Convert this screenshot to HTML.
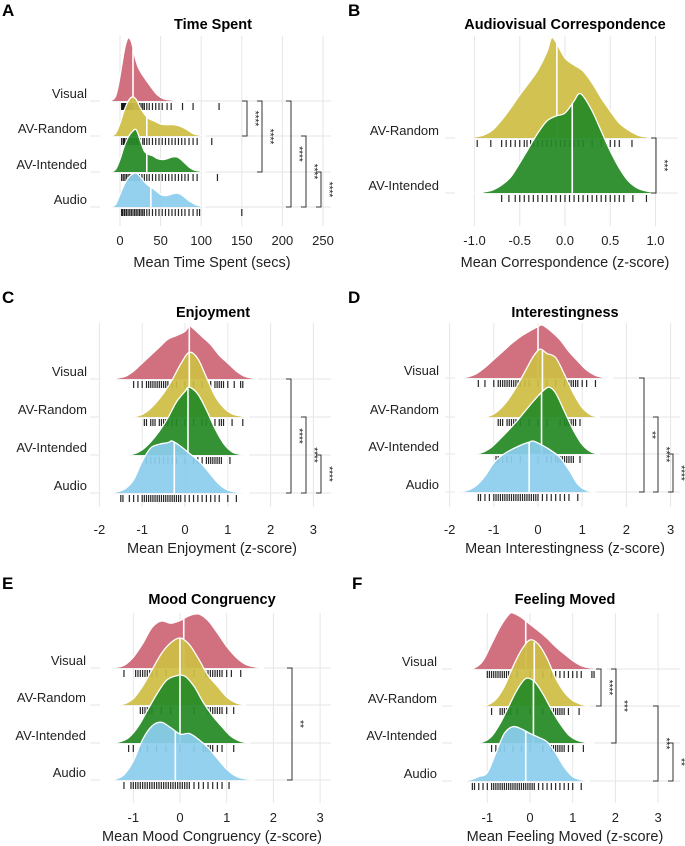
<!DOCTYPE html>
<html><head><meta charset="utf-8">
<style>
html,body{margin:0;padding:0;background:#fff;}
svg{display:block;font-family:"Liberation Sans",Arial,sans-serif;}
</style></head>
<body>
<svg id="fig" width="685" height="846" viewBox="0 0 685 846" xmlns="http://www.w3.org/2000/svg"></svg>
<script>
// ---------- DATA ----------
const rowNames4 = ["Visual","AV-Random","AV-Intended","Audio"];
const rowNames2 = ["AV-Random","AV-Intended"];

// Panel A: Time Spent
const timeTicks = [0,50,100,150,200,250];
const timeVisualDensity = [[-12,0],[-6,0.06],[-2,0.25],[2,0.55],[6,0.85],[10,1.0],[14,0.94],[18,0.72],[22,0.55],[26,0.45],[30,0.37],[35,0.28],[40,0.19],[45,0.11],[50,0.06],[55,0.03],[60,0.02],[70,0.005],[80,0]];
const timeRandomDensity = [[-10,0],[-5,0.05],[0,0.2],[5,0.4],[10,0.55],[15,0.62],[20,0.58],[25,0.45],[30,0.35],[35,0.28],[40,0.25],[45,0.22],[50,0.19],[55,0.18],[60,0.18],[65,0.18],[70,0.17],[75,0.15],[80,0.12],[85,0.08],[90,0.04],[95,0.02],[105,0]];
const timeIntendedDensity = [[-10,0],[-5,0.05],[0,0.2],[5,0.4],[10,0.55],[15,0.64],[20,0.67],[25,0.5],[30,0.33],[35,0.28],[40,0.26],[45,0.22],[50,0.2],[55,0.2],[60,0.22],[65,0.24],[70,0.24],[75,0.2],[80,0.14],[85,0.08],[90,0.04],[95,0.02],[105,0]];
const timeAudioDensity = [[-10,0],[-5,0.05],[0,0.2],[5,0.35],[10,0.46],[15,0.52],[20,0.54],[25,0.48],[30,0.4],[35,0.34],[40,0.3],[45,0.25],[50,0.2],[55,0.18],[60,0.19],[65,0.21],[70,0.22],[75,0.2],[80,0.15],[85,0.1],[90,0.06],[95,0.03],[105,0]];
const timeMedians = [16,33,33,38];
const timeRugVisual = [2,3,4,5,6,7,8,9,10,11,12,13,14,15,16,18,20,22,24,26,28,30,33,36,40,44,48,52,58,63,77,90,122];
const timeRugRandom = [2,4,5,6,8,10,12,14,16,18,20,22,25,28,30,33,36,40,44,48,52,56,60,64,68,72,76,80,85,90,95,113];
const timeRugIntended = [2,4,6,8,10,12,14,16,18,20,22,24,27,30,33,36,40,44,48,52,56,60,64,68,72,76,80,84,90,95,120];
const timeRugAudio = [2,3,5,6,8,10,12,14,16,18,20,22,24,26,28,30,33,36,40,44,48,52,56,60,64,68,72,76,80,85,90,95,98,150];
const timeBrackets = [[0,1,"****"],[0,2,"****"],[0,3,"****"],[1,3,"****"],[2,3,"****"]];

// Panel B: Audiovisual Correspondence
const corrTicks = [-1.0,-0.5,0.0,0.5,1.0];
const corrRandomDensity = [[-1.0,0.01],[-0.9,0.03],[-0.8,0.08],[-0.7,0.18],[-0.6,0.3],[-0.5,0.43],[-0.4,0.55],[-0.3,0.68],[-0.2,0.86],[-0.15,1.0],[-0.1,0.96],[0,0.8],[0.1,0.73],[0.2,0.67],[0.3,0.55],[0.4,0.4],[0.5,0.27],[0.6,0.15],[0.7,0.08],[0.8,0.03],[0.9,0.01],[1.0,0]];
const corrIntendedDensity = [[-0.9,0.01],[-0.8,0.03],[-0.7,0.08],[-0.6,0.16],[-0.5,0.3],[-0.4,0.45],[-0.3,0.6],[-0.2,0.72],[-0.1,0.77],[0,0.8],[0.1,0.92],[0.15,0.99],[0.2,0.97],[0.3,0.82],[0.4,0.62],[0.5,0.42],[0.6,0.25],[0.7,0.12],[0.8,0.05],[0.9,0.02],[1.0,0.005]];
const corrMedians = [-0.09,0.08];
const corrRugRandom = [-0.97,-0.82,-0.7,-0.65,-0.6,-0.55,-0.5,-0.45,-0.42,-0.38,-0.35,-0.3,-0.25,-0.2,-0.15,-0.1,-0.05,0,0.05,0.1,0.15,0.2,0.3,0.4,0.5,0.55,0.6,0.74];
const corrRugIntended = [-0.7,-0.62,-0.55,-0.5,-0.45,-0.4,-0.35,-0.3,-0.25,-0.2,-0.15,-0.1,-0.05,0,0.05,0.1,0.15,0.2,0.25,0.3,0.35,0.4,0.45,0.5,0.55,0.6,0.65,0.75,0.9];
const corrBrackets = [[0,1,"***"]];

// Panel C: Enjoyment
const enjTicks = [-2,-1,0,1,2,3];
const enjVisualDensity = [[-1.7,0],[-1.4,0.05],[-1.2,0.15],[-1.0,0.3],[-0.8,0.45],[-0.6,0.6],[-0.4,0.75],[-0.2,0.82],[0,0.9],[0.1,1.0],[0.2,0.95],[0.4,0.8],[0.6,0.65],[0.8,0.45],[1.0,0.3],[1.2,0.15],[1.4,0.05],[1.7,0]];
const enjRandomDensity = [[-1.3,0],[-1.1,0.02],[-0.9,0.1],[-0.7,0.25],[-0.5,0.45],[-0.3,0.7],[-0.1,1.0],[0.1,1.22],[0.3,1.1],[0.5,0.75],[0.7,0.4],[0.9,0.18],[1.1,0.06],[1.3,0.02],[1.5,0]];
const enjIntendedDensity = [[-1.4,0],[-1.2,0.02],[-1.0,0.1],[-0.8,0.25],[-0.6,0.45],[-0.4,0.7],[-0.2,1.0],[0,1.2],[0.1,1.28],[0.3,1.15],[0.5,0.85],[0.7,0.5],[0.9,0.22],[1.1,0.06],[1.3,0.01],[1.5,0]];
const enjAudioDensity = [[-1.8,0],[-1.6,0.02],[-1.4,0.08],[-1.2,0.25],[-1.0,0.6],[-0.8,0.85],[-0.6,0.92],[-0.4,0.95],[-0.3,0.98],[-0.1,0.88],[0.1,0.75],[0.3,0.62],[0.5,0.45],[0.7,0.25],[0.9,0.1],[1.1,0.03],[1.3,0.01],[1.5,0]];
const enjMedians = [0.1,0.1,0.07,-0.25];
const enjRugVisual = [-1.2,-1.1,-1.0,-0.9,-0.85,-0.8,-0.75,-0.7,-0.65,-0.6,-0.55,-0.5,-0.45,-0.4,-0.3,-0.2,0,0.2,0.4,0.6,0.7,0.75,0.8,0.85,0.9,1.0,1.15,1.3,1.35];
const enjRugRandom = [-0.95,-0.9,-0.8,-0.75,-0.7,-0.6,-0.55,-0.5,-0.45,-0.4,-0.3,-0.2,0,0.2,0.4,0.5,0.6,0.7,0.8,0.85,0.9,1.1,1.35];
const enjRugIntended = [-0.9,-0.8,-0.7,-0.6,-0.5,-0.4,-0.3,-0.2,0,0.2,0.3,0.4,0.5,0.55,0.6,0.65,0.7,0.75,0.8,0.85,1.05];
const enjRugAudio = [-1.5,-1.45,-1.3,-1.2,-1.1,-1.0,-0.95,-0.9,-0.85,-0.8,-0.75,-0.7,-0.65,-0.6,-0.55,-0.5,-0.45,-0.4,-0.35,-0.3,-0.25,-0.2,-0.15,-0.1,0,0.1,0.2,0.3,0.4,0.5,0.6,0.7,0.8,1.0,1.2];
const enjBrackets = [[0,3,"****"],[1,3,"****"],[2,3,"****"]];

// Panel D: Interestingness
const intTicks = [-2,-1,0,1,2,3];
const intVisualDensity = [[-1.8,0],[-1.6,0.02],[-1.4,0.08],[-1.2,0.2],[-1.0,0.35],[-0.8,0.5],[-0.6,0.65],[-0.4,0.78],[-0.2,0.88],[0,0.97],[0.1,1.0],[0.3,0.88],[0.5,0.72],[0.7,0.5],[0.9,0.32],[1.1,0.15],[1.3,0.05],[1.5,0.01],[1.7,0]];
const intRandomDensity = [[-1.3,0],[-1.1,0.02],[-0.9,0.12],[-0.7,0.3],[-0.5,0.55],[-0.3,0.85],[-0.1,1.15],[0.05,1.28],[0.2,1.2],[0.4,1.12],[0.6,0.8],[0.8,0.45],[1.0,0.18],[1.2,0.04],[1.4,0]];
const intIntendedDensity = [[-1.5,0],[-1.3,0.02],[-1.1,0.1],[-0.9,0.25],[-0.7,0.42],[-0.5,0.6],[-0.3,0.8],[-0.1,1.0],[0.1,1.18],[0.25,1.26],[0.4,1.15],[0.6,0.8],[0.8,0.45],[1.0,0.18],[1.2,0.04],[1.4,0]];
const intAudioDensity = [[-1.8,0],[-1.6,0.03],[-1.4,0.12],[-1.2,0.3],[-1.0,0.55],[-0.8,0.7],[-0.6,0.8],[-0.4,0.88],[-0.2,0.94],[-0.1,0.96],[0.1,0.88],[0.3,0.78],[0.5,0.65],[0.7,0.42],[0.9,0.15],[1.1,0.03],[1.3,0]];
const intMedians = [0,0.1,0.08,-0.2];
const intRugVisual = [-1.35,-1.2,-1.0,-0.9,-0.85,-0.8,-0.75,-0.7,-0.65,-0.6,-0.55,-0.5,-0.45,-0.4,-0.3,-0.2,0,0.2,0.4,0.6,0.7,0.75,0.8,0.85,0.9,1.0,1.1,1.3];
const intRugRandom = [-0.9,-0.85,-0.8,-0.7,-0.65,-0.6,-0.55,-0.5,-0.4,-0.2,0,0.2,0.5,0.6,0.65,0.7,0.75,0.8,0.85,0.95];
const intRugIntended = [-0.95,-0.9,-0.8,-0.7,-0.6,-0.4,-0.2,0,0.2,0.3,0.4,0.45,0.5,0.55,0.6,0.65,0.7,0.75,0.8,0.95];
const intRugAudio = [-1.35,-1.3,-1.2,-1.1,-1.0,-0.95,-0.9,-0.85,-0.8,-0.75,-0.7,-0.65,-0.6,-0.55,-0.5,-0.45,-0.4,-0.35,-0.3,-0.25,-0.2,-0.15,-0.1,-0.05,0,0.1,0.2,0.3,0.4,0.5,0.6,0.7,0.9];
const intBrackets = [[0,3,"**"],[1,3,"****"],[2,3,"****"]];

// Panel E: Mood Congruency
const moodTicks = [-1,0,1,2,3];
const moodVisualDensity = [[-1.6,0],[-1.4,0.01],[-1.2,0.05],[-1.0,0.2],[-0.8,0.45],[-0.6,0.75],[-0.4,0.87],[-0.2,0.83],[0,0.88],[0.2,0.97],[0.4,1.0],[0.6,0.88],[0.8,0.65],[1.0,0.4],[1.2,0.2],[1.4,0.07],[1.6,0.02],[1.8,0]];
const moodRandomDensity = [[-1.4,0],[-1.2,0.02],[-1.0,0.12],[-0.8,0.35],[-0.6,0.65],[-0.4,0.95],[-0.2,1.15],[0,1.24],[0.2,1.12],[0.4,0.85],[0.6,0.55],[0.8,0.35],[1.0,0.15],[1.2,0.04],[1.4,0]];
const moodIntendedDensity = [[-1.5,0],[-1.3,0.02],[-1.1,0.1],[-0.9,0.3],[-0.7,0.6],[-0.5,0.9],[-0.3,1.15],[-0.1,1.24],[0.1,1.24],[0.3,1.05],[0.5,0.75],[0.7,0.5],[0.9,0.3],[1.1,0.12],[1.3,0.03],[1.5,0]];
const moodAudioDensity = [[-1.6,0],[-1.4,0.01],[-1.2,0.1],[-1.0,0.35],[-0.8,0.75],[-0.6,1.0],[-0.4,1.07],[-0.2,0.97],[0,0.85],[0.2,0.86],[0.4,0.75],[0.6,0.6],[0.8,0.4],[1.0,0.2],[1.2,0.07],[1.4,0.02],[1.6,0]];
const moodMedians = [0.08,0,0,-0.1];
const moodRugVisual = [-1.2,-0.95,-0.9,-0.85,-0.8,-0.75,-0.7,-0.65,-0.6,-0.5,-0.3,0,0.3,0.55,0.6,0.65,0.7,0.75,0.8,0.85,0.9,1.0,1.1,1.3];
const moodRugRandom = [-0.85,-0.8,-0.75,-0.7,-0.65,-0.6,-0.4,-0.2,0,0.3,0.6,0.65,0.7,0.75,0.8,0.85,0.9,1.0,1.15];
const moodRugIntended = [-1.1,-1.0,-0.85,-0.7,-0.5,-0.3,0,0.3,0.5,0.55,0.6,0.65,0.7,0.8,0.9,1.15];
const moodRugAudio = [-1.2,-1.05,-1.0,-0.95,-0.9,-0.85,-0.8,-0.75,-0.7,-0.65,-0.6,-0.55,-0.5,-0.45,-0.4,-0.35,-0.3,-0.25,-0.2,-0.15,-0.1,-0.05,0,0.05,0.1,0.15,0.2,0.3,0.4,0.5,0.6,0.7,0.8,0.9,1.05];
const moodBrackets = [[0,3,"**"]];

// Panel F: Feeling Moved
const movedTicks = [-1,0,1,2,3];
const movedVisualDensity = [[-1.5,0],[-1.3,0.02],[-1.1,0.15],[-0.9,0.45],[-0.7,0.75],[-0.5,0.97],[-0.4,1.0],[-0.2,0.92],[0,0.8],[0.2,0.68],[0.4,0.55],[0.6,0.4],[0.8,0.27],[1.0,0.15],[1.2,0.06],[1.4,0.02],[1.6,0.01],[1.8,0]];
const movedRandomDensity = [[-1.2,0],[-1.0,0.02],[-0.8,0.12],[-0.6,0.35],[-0.4,0.7],[-0.2,1.0],[0,1.18],[0.2,1.1],[0.4,0.85],[0.6,0.5],[0.8,0.25],[1.0,0.1],[1.2,0.03],[1.4,0]];
const movedIntendedDensity = [[-1.3,0],[-1.1,0.02],[-0.9,0.12],[-0.7,0.35],[-0.5,0.65],[-0.3,0.95],[-0.1,1.15],[0.1,1.1],[0.3,0.88],[0.5,0.6],[0.7,0.35],[0.9,0.15],[1.1,0.05],[1.3,0.01],[1.5,0]];
const movedAudioDensity = [[-1.6,0],[-1.4,0.02],[-1.2,0.08],[-1.0,0.15],[-0.8,0.5],[-0.6,0.85],[-0.4,0.97],[-0.2,0.93],[0,0.85],[0.2,0.78],[0.4,0.7],[0.6,0.5],[0.8,0.25],[1.0,0.08],[1.2,0.02],[1.4,0]];
const movedMedians = [-0.1,0.1,0.08,-0.1];
const movedRugVisual = [-1.0,-0.95,-0.9,-0.85,-0.8,-0.75,-0.7,-0.65,-0.6,-0.55,-0.5,-0.45,-0.3,0,0.3,0.5,0.6,0.7,0.8,0.9,1.0,1.1,1.2,1.45,1.5];
const movedRugRandom = [-0.9,-0.7,-0.65,-0.6,-0.55,-0.5,-0.45,-0.3,0,0.3,0.5,0.55,0.6,0.65,0.7,0.75,0.8,0.9,1.15];
const movedRugIntended = [-0.9,-0.8,-0.7,-0.6,-0.4,-0.2,0,0.3,0.5,0.55,0.6,0.65,0.7,0.75,0.8,0.9,1.0,1.25];
const movedRugAudio = [-1.35,-1.3,-1.2,-1.1,-1.0,-0.9,-0.85,-0.8,-0.75,-0.7,-0.65,-0.6,-0.55,-0.5,-0.45,-0.4,-0.35,-0.3,-0.25,-0.2,-0.15,-0.1,-0.05,0,0.05,0.1,0.2,0.3,0.4,0.5,0.6,0.7,0.8,0.9,1.0,1.2];
const movedBrackets = [[0,1,"****"],[0,2,"***"],[1,3,"***"],[2,3,"**"]];

// ---------- RENDERING ----------
const NS = "http://www.w3.org/2000/svg";
const svg = document.getElementById("fig");
const COLORS = {"Visual":"#cd6676","AV-Random":"#cdbd45","AV-Intended":"#258a25","Audio":"#8ccdee"};

function mk(tag, attrs, parent){
  const e = document.createElementNS(NS, tag);
  for (const k in attrs) e.setAttribute(k, attrs[k]);
  (parent||svg).appendChild(e);
  return e;
}
function smoothPath(pts){
  let d = "M"+pts[0][0].toFixed(2)+","+pts[0][1].toFixed(2);
  for (let i=0;i<pts.length-1;i++){
    const p0=pts[Math.max(0,i-1)], p1=pts[i], p2=pts[i+1], p3=pts[Math.min(pts.length-1,i+2)];
    const c1x=p1[0]+(p2[0]-p0[0])/6, c1y=p1[1]+(p2[1]-p0[1])/6;
    const c2x=p2[0]-(p3[0]-p1[0])/6, c2y=p2[1]-(p3[1]-p1[1])/6;
    d += " C"+c1x.toFixed(2)+","+c1y.toFixed(2)+" "+c2x.toFixed(2)+","+c2y.toFixed(2)+" "+p2[0].toFixed(2)+","+p2[1].toFixed(2);
  }
  return d;
}
function interp(dens, v){
  if (v<=dens[0][0] || v>=dens[dens.length-1][0]) return 0;
  for (let i=0;i<dens.length-1;i++){
    if (v>=dens[i][0] && v<=dens[i+1][0]){
      const t=(v-dens[i][0])/(dens[i+1][0]-dens[i][0]);
      return dens[i][1]+t*(dens[i+1][1]-dens[i][1]);
    }
  }
  return 0;
}

function drawPanel(p){
  const g = mk("g", {});
  
  
  const X = v => p.p0 + (v - p.v0) * p.scale;
  const letter = mk("text", {x:p.letterX, y:p.letterY, "font-size":"17", "font-weight":"bold", fill:"#000"}, g);
  letter.textContent = p.letter;
  
  
  const title = mk("text", {x:p.titleX, y:p.titleY, "font-size":"14.5", "font-weight":"bold", "text-anchor":"middle", fill:"#000"}, g);
  title.textContent = p.title;
  
  
  p.ticks.forEach(t => {
    const gl = mk("line", {x1:X(t), x2:X(t), y1:p.gridTop, y2:p.gridBottom, stroke:"#e6e6e6", "stroke-width":"1"}, g);
    
    
    const tl = mk("text", {x:X(t), y:p.tickY, "font-size":"13", "text-anchor":"middle", fill:"#222"}, g);
    tl.textContent = p.tickFmt ? p.tickFmt(t) : String(t);
    
    
  });
  const at = mk("text", {x:p.axisX, y:p.axisY, "font-size":"14.5", "text-anchor":"middle", fill:"#222"}, g);
  at.textContent = p.axisTitle;
  
  
  p.rows.forEach((r,i) => {
    const hl = mk("line", {x1:p.lineX0, x2:p.lineX1, y1:p.baselines[i], y2:p.baselines[i], stroke:"#e6e6e6", "stroke-width":"1"}, g);
    
    
    const lb = mk("text", {x:p.labelX, y:p.baselines[i]-3, "font-size":"13", "text-anchor":"end", fill:"#222"}, g);
    lb.textContent = r;
    
    
  });
  p.rows.forEach((r,i) => {
    const base = p.baselines[i];
    const dens = p.dens[i];
    const pts = dens.map(d => [X(d[0]), base - d[1]*p.U]);
    const lineD = smoothPath(pts);
    const areaD = lineD + " L"+pts[pts.length-1][0].toFixed(2)+","+base+" L"+pts[0][0].toFixed(2)+","+base+" Z";
    const ridge = mk("path", {d:areaD, fill:COLORS[r], "fill-opacity":"0.93", stroke:"none"}, g);
    
    
    const tailL = mk("line", {x1:p.lineX0+10, x2:pts[0][0], y1:base, y2:base, stroke:"#fff", "stroke-width":"1.2"}, g);
    
    
    const outline = mk("path", {d:lineD, fill:"none", stroke:"#fff", "stroke-width":"1.3"}, g);
    
    
    const m = p.medians[i];
    const mh = interp(dens, m) * p.U;
    const med = mk("line", {x1:X(m), x2:X(m), y1:base, y2:base-mh, stroke:"#fff", "stroke-width":"1.6"}, g);
    
    
    p.rugs[i].forEach(v => {
      const rt = mk("line", {x1:X(v), x2:X(v), y1:base+2, y2:base+9, stroke:"#000", "stroke-width":"1.2", "stroke-opacity":"0.85"}, g);
      
      
    });
  });
  p.brackets.forEach((b,k) => {
    const x = p.bracketX[k];
    const y1 = p.baselines[b[0]], y2 = p.baselines[b[1]];
    const br = mk("path", {d:"M"+(x-5)+","+y1+" L"+x+","+y1+" L"+x+","+y2+" L"+(x-5)+","+y2, fill:"none", stroke:"#333", "stroke-width":"1"}, g);
    
    
    const cy = (y1+y2)/2, cx = x+5;
    const st = mk("text", {x:cx, y:cy, "font-size":"10", "text-anchor":"middle", fill:"#222", transform:"rotate(90 "+cx+" "+cy+")"}, g);
    st.textContent = b[2];
    
    
  });
}

drawPanel({name:"time-spent", letter:"A", letterX:2, letterY:16, title:"Time Spent", titleX:213, titleY:29,
  v0:0, p0:120, scale:0.812, ticks:timeTicks, gridTop:36, gridBottom:226, tickY:245, axisX:212, axisY:267,
  axisTitle:"Mean Time Spent (secs)", lineX0:90, lineX1:331, labelX:87, U:63,
  rows:rowNames4, baselines:[101,136,172,207],
  dens:[timeVisualDensity,timeRandomDensity,timeIntendedDensity,timeAudioDensity],
  medians:timeMedians, rugs:[timeRugVisual,timeRugRandom,timeRugIntended,timeRugAudio],
  brackets:timeBrackets, bracketX:[247,262,291,306,321]});

drawPanel({name:"audiovisual-correspondence", letter:"B", letterX:348, letterY:16, title:"Audiovisual Correspondence", titleX:565, titleY:29,
  v0:0, p0:565, scale:90.5, ticks:corrTicks, tickFmt:t=>t.toFixed(1), gridTop:36, gridBottom:226, tickY:245, axisX:565, axisY:267,
  axisTitle:"Mean Correspondence (z-score)", lineX0:445, lineX1:678, labelX:439, U:100,
  rows:rowNames2, baselines:[138,193],
  dens:[corrRandomDensity,corrIntendedDensity], medians:corrMedians, rugs:[corrRugRandom,corrRugIntended],
  brackets:corrBrackets, bracketX:[656]});

drawPanel({name:"enjoyment", letter:"C", letterX:2, letterY:303, title:"Enjoyment", titleX:213, titleY:317,
  v0:0, p0:185, scale:42.8, ticks:enjTicks, gridTop:323, gridBottom:507, tickY:534, axisX:212, axisY:553,
  axisTitle:"Mean Enjoyment (z-score)", lineX0:90, lineX1:331, labelX:87, U:53,
  rows:rowNames4, baselines:[379,417,455,493],
  dens:[enjVisualDensity,enjRandomDensity,enjIntendedDensity,enjAudioDensity],
  medians:enjMedians, rugs:[enjRugVisual,enjRugRandom,enjRugIntended,enjRugAudio],
  brackets:enjBrackets, bracketX:[291,306,321]});

drawPanel({name:"interestingness", letter:"D", letterX:348, letterY:303, title:"Interestingness", titleX:565, titleY:317,
  v0:0, p0:538, scale:44.2, ticks:intTicks, gridTop:323, gridBottom:507, tickY:534, axisX:565, axisY:553,
  axisTitle:"Mean Interestingness (z-score)", lineX0:445, lineX1:680, labelX:439, U:53,
  rows:rowNames4, baselines:[378,417,454,492],
  dens:[intVisualDensity,intRandomDensity,intIntendedDensity,intAudioDensity],
  medians:intMedians, rugs:[intRugVisual,intRugRandom,intRugIntended,intRugAudio],
  brackets:intBrackets, bracketX:[644,658,673]});

drawPanel({name:"mood-congruency", letter:"E", letterX:2, letterY:589, title:"Mood Congruency", titleX:212, titleY:604,
  v0:0, p0:180, scale:46.7, ticks:moodTicks, gridTop:613, gridBottom:803, tickY:822, axisX:212, axisY:841,
  axisTitle:"Mean Mood Congruency (z-score)", lineX0:90, lineX1:331, labelX:86, U:54,
  rows:rowNames4, baselines:[668,705,743,780],
  dens:[moodVisualDensity,moodRandomDensity,moodIntendedDensity,moodAudioDensity],
  medians:moodMedians, rugs:[moodRugVisual,moodRugRandom,moodRugIntended,moodRugAudio],
  brackets:moodBrackets, bracketX:[292]});

drawPanel({name:"feeling-moved", letter:"F", letterX:352, letterY:589, title:"Feeling Moved", titleX:565, titleY:604,
  v0:0, p0:530, scale:42.7, ticks:movedTicks, gridTop:613, gridBottom:803, tickY:822, axisX:565, axisY:841,
  axisTitle:"Mean Feeling Moved (z-score)", lineX0:442, lineX1:680, labelX:437, U:56,
  rows:rowNames4, baselines:[669,706,743,781],
  dens:[movedVisualDensity,movedRandomDensity,movedIntendedDensity,movedAudioDensity],
  medians:movedMedians, rugs:[movedRugVisual,movedRugRandom,movedRugIntended,movedRugAudio],
  brackets:movedBrackets, bracketX:[601,616,658,673]});
</script>
</body></html>
